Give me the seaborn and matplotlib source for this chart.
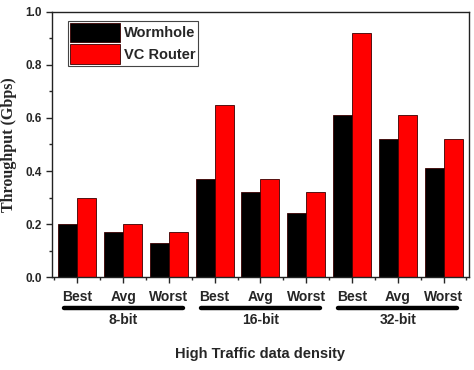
import matplotlib
matplotlib.use("Agg")
import matplotlib.pyplot as plt
import matplotlib.transforms as mtransforms
from matplotlib.ticker import MultipleLocator, FixedLocator
import seaborn as sns
import pandas as pd

groups = ["8-bit", "16-bit", "32-bit"]
cases = ["Best", "Avg", "Worst"]
series = ["Wormhole", "VC Router"]
wormhole = [0.20, 0.17, 0.13, 0.37, 0.32, 0.24, 0.61, 0.52, 0.41]
vc_router = [0.30, 0.20, 0.17, 0.65, 0.37, 0.32, 0.92, 0.61, 0.52]
colors = ["#000000", "#ff0000"]

cats = [f"{g}|{c}" for g in groups for c in cases]
rows = []
for i, cat in enumerate(cats):
    rows.append({"cat": cat, "series": series[0], "value": wormhole[i]})
    rows.append({"cat": cat, "series": series[1], "value": vc_router[i]})
df = pd.DataFrame(rows)

sns.set_style("ticks")
fig = plt.figure(figsize=(4.74, 3.70), dpi=100)
ax = fig.add_axes([0.11, 0.251, 0.879, 0.717])

sns.barplot(data=df, x="cat", y="value", hue="series", order=cats,
            hue_order=series, palette=colors, width=0.83,
            edgecolor="#3a0000", linewidth=0.6, ax=ax, saturation=1)

ax.set_ylim(0, 1.0)
ax.set_xlim(-0.55, 8.55)
ax.yaxis.set_minor_locator(MultipleLocator(0.1))
ax.set_yticks([0, 0.2, 0.4, 0.6, 0.8, 1.0])
ax.set_yticklabels(["0.0", "0.2", "0.4", "0.6", "0.8", "1.0"],
                   fontsize=8.5, fontweight="bold", family="Liberation Sans")
ax.set_xticks(range(len(cats)))
ax.xaxis.set_minor_locator(FixedLocator([i - 0.5 for i in range(len(cats) + 1)]))
ax.set_xticklabels([c.split("|")[1] for c in cats], fontsize=10,
                   fontweight="bold", family="Liberation Sans")
ax.tick_params(axis="both", which="both", direction="out", width=1)
ax.tick_params(axis="both", which="major", length=4)
ax.tick_params(axis="both", which="minor", length=2.5)
ax.tick_params(axis="x", pad=5)
for s in ax.spines.values():
    s.set_visible(True)
    s.set_linewidth(1.0)
    s.set_color("#222222")

ax.set_xlabel("High Traffic data density", fontsize=10.5, fontweight="bold",
              family="Liberation Sans", labelpad=31)
ax.set_ylabel("Throughput (Gbps)", fontsize=11.5, fontweight="bold",
              family="Liberation Serif", labelpad=6)

trans = mtransforms.blended_transform_factory(ax.transData, ax.transAxes)
for gi, g in enumerate(groups):
    center = gi * 3 + 1
    ax.plot([center - 1.3, center + 1.3], [-0.118, -0.118], transform=trans,
            color="black", lw=3.2, solid_capstyle="round", clip_on=False)
    ax.text(center, -0.162, g, transform=trans, ha="center", va="center",
            fontsize=10, fontweight="bold", family="Liberation Sans")

leg = ax.legend(loc="upper left", bbox_to_anchor=(0.038, 0.966), frameon=True,
                fancybox=False, edgecolor="#444444", framealpha=1,
                handlelength=3.4, handleheight=1.65, borderpad=0.15,
                labelspacing=0.15, handletextpad=0.3, borderaxespad=0,
                prop={"family": "Liberation Sans", "weight": "bold", "size": 10.5})
leg.get_frame().set_linewidth(0.8)

fig.savefig("out.png", dpi=100)
